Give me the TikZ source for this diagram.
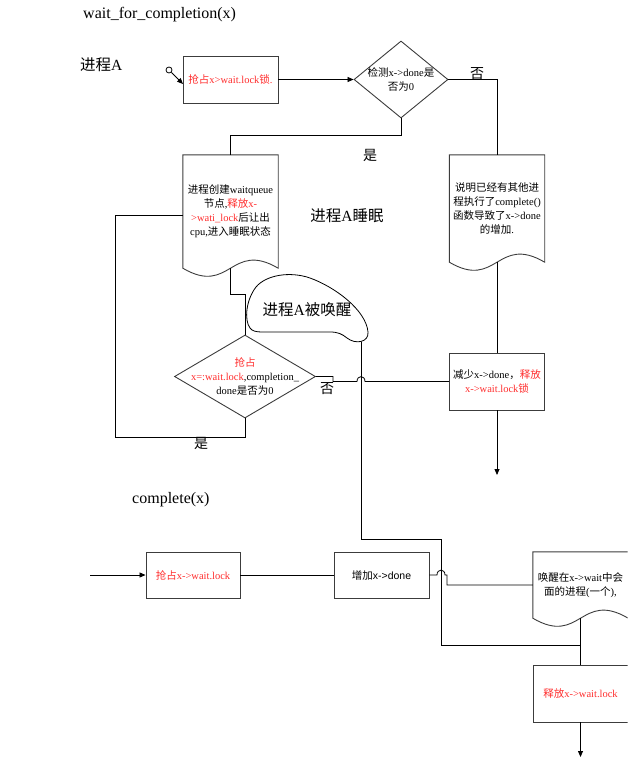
\documentclass[tikz,border=0pt]{standalone}
\usepackage{fontspec}
\setmainfont{Liberation Serif}
\newfontfamily\cjk{Noto Sans CJK SC}
\newfontfamily\arialfont{Liberation Sans}
\usetikzlibrary{arrows.meta,shapes.geometric,calc}
\definecolor{myred}{RGB}{255,45,45}
\definecolor{boxgray}{RGB}{60,60,60}
\newcommand\zh[1]{{\cjk #1}}
\newcommand\rd[1]{\textcolor{myred}{#1}}
\newcommand\docshape[1]{\draw[draw=boxgray,line width=0.9pt] (#1.south west) -- (#1.north west) -- (#1.north east) -- (#1.south east) .. controls ($(#1.south)+(0,-28)$) and ($(#1.south)+(0,28)$) .. (#1.south west) -- cycle;}
\begin{document}
\begin{tikzpicture}[x=1pt,y=-1pt,
  smallfont/.style={font=\fontsize{10.5}{14}\selectfont},
  box/.style={smallfont,draw=boxgray,line width=0.9pt,minimum width=95pt,inner sep=0pt,align=center},
  docbase/.style={smallfont,minimum width=95pt,inner sep=0pt,align=center},
  dia/.style={diamond,draw=boxgray,line width=0.9pt,inner sep=0pt},
  txt/.style={smallfont,inner sep=0pt,align=center},
  conn/.style={line width=0.8pt,black},
  arr/.style={conn,-{Triangle[length=6pt,width=5pt]}},
  big/.style={font=\fontsize{15.5}{18}\selectfont,inner sep=0pt},
  title/.style={font=\fontsize{16}{18}\selectfont,inner sep=0pt},
  yn/.style={font=\fontsize{14}{16}\selectfont\cjk,inner sep=0pt}
]
\useasboundingbox (0,0) rectangle (628,768);
\clip (0,0) rectangle (627.6,768);

% titles and free labels
\node[title,anchor=west] (t1) at (83,15) {wait\_for\_completion(x)};
\node[big,anchor=west] (pa) at (80,65) {\zh{进程}A};
\node[big] (sleep) at (347,216) {\zh{进程}A\zh{睡眠}};
\node[title,anchor=west] (t2) at (132,500) {complete(x)};

% wait_for_completion part
\node[circle,draw=black,line width=0.8pt,fill=white,inner sep=0pt,minimum size=6pt] (start) at (169,70) {};
\coordinate (s1) at (183,84);
\node[box,minimum height=47pt] (b1) at (230.5,79.5) {\rd{\zh{抢占}x>wait.lock\zh{锁}.}};
\node[dia,minimum width=94pt,minimum height=77pt] (dia1) at (401,79.5) {};
\node[txt] (dia1t) at (401,79.5) {\zh{检测}x->done\zh{是}\\\zh{否为}0};

\node[docbase,minimum height=113pt] (d1) at (230.5,211.5) {\zh{进程创建}waitqueue\\\zh{节点},\rd{\zh{释放}x-}\\\rd{>wati\_lock}\zh{后让出}\\cpu,\zh{进入睡眠状态}};
\docshape{d1}
\node[docbase,minimum height=107pt] (d2) at (497,208.5) {\zh{说明已经有其他进}\\\zh{程执行了}complete()\\\zh{函数导致了}x->done\\\zh{的增加}.};
\docshape{d2}

\node[dia,minimum width=141pt,minimum height=83pt] (dia2) at (245,376.5) {};
\node[txt] (dia2t) at (245,376.5) {\rd{\zh{抢占}}\\\rd{x=:wait.lock},completion\_\\done\zh{是否为}0};

\node[box,minimum height=57pt] (jian) at (497,381.5) {\zh{减少}x->done\zh{，}\rd{\zh{释放}}\\\rd{x->wait.lock\zh{锁}}};
\coordinate (e1) at (497,475);

% complete part
\coordinate (in) at (90,575);
\node[box,minimum width=94pt,minimum height=46pt] (qz) at (193,575) {\rd{\zh{抢占}x->wait.lock}};
\node[box,minimum height=46pt] (zeng) at (381.5,575) {\arialfont\zh{增加}x->done};
\node[docbase,minimum height=66pt] (d3) at (580.5,585) {\zh{唤醒在}x->wait\zh{中会}\\\zh{面的进程}(\zh{一个}),};
\docshape{d3}
\node[box,minimum height=57pt] (b4) at (580.5,693.5) {\rd{\zh{释放}x->wait.lock}};
\coordinate (e2) at (580.5,757);

% yes/no labels
\node[yn] (no1) at (477,74) {否};
\node[yn] (yes1) at (370,155) {是};
\node[yn] (no2) at (327,389) {否};
\node[yn] (yes2) at (201,443) {是};

% connectors
\coordinate (lp) at (115,215);
\draw[arr] (start) -- (s1);
\draw[arr] (b1.east) -- (dia1.west);
\draw[conn] (dia1.east) -- (497,79.5) -- (d2.north);
\draw[conn] (dia1.south) -- (401,135) -| (d1.north);
\draw[conn] (d2.south) -- (jian.north);
\draw[arr] (jian.south) -- (e1);
\draw[conn] (d1.south) -- (230.5,294) -- (245,294) -- (dia2.north);
\draw[conn] (dia2.south) -- (245,437) -- (115,437) -- (lp) -- (lp -| d1.west);
\draw[conn] (dia2.east) -- (333,376.5) -- (333,381.5) -- (357,381.5) .. controls (357,375) and (365,375) .. (365,381.5) -- (jian.west);

\draw[arr] (in) -- (qz.west);
\draw[conn] (qz.east) -- (zeng.west);
\draw[conn] (zeng.east) -- (437,575) .. controls (437,568.5) and (445,568.5) .. (445,575) -- (447,575) |- (d3.west);
\draw[conn] (d3.south) -- (b4.north);
\draw[arr] (b4.south) -- (e2);

% cloud
\coordinate (cb) at (361,341.5);
\coordinate (j) at (580.5,645);
\draw[conn] (cb) -- (361,539) -- (441,539) -- (441,645) -- (j);
\draw[line width=0.8pt,black,fill=white] (250,328) .. controls (244,320) and (246,300) .. (256,287) .. controls (266,275) and (290,271) .. (310,278) .. controls (335,287) and (366,310) .. (368,332) .. controls (369,342) and (356,345) .. (347,338) .. controls (342,334) and (338,332) .. (330,332) -- (262,332) .. controls (256,332) and (252,331) .. (250,328) -- cycle;
\node[big] (wake) at (307,310) {\zh{进程}A\zh{被唤醒}};
\end{tikzpicture}
\end{document}
